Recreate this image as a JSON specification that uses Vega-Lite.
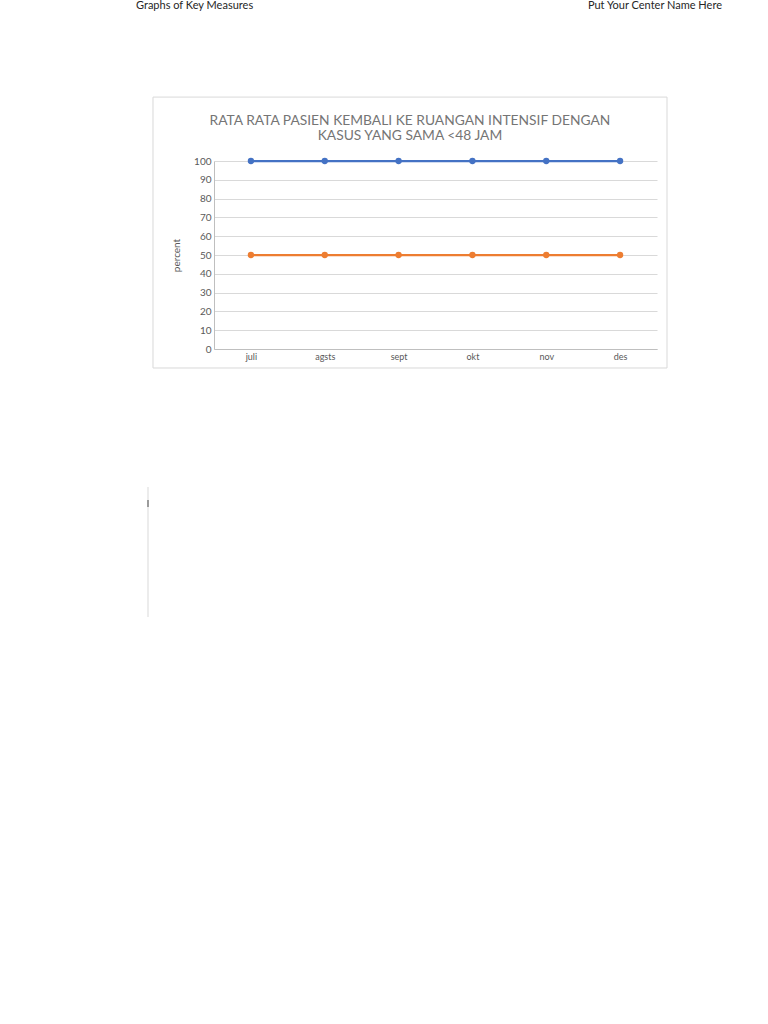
{
  "$schema": "https://vega.github.io/schema/vega-lite/v6.json",
  "autosize": {"type": "none"},
  "width": 443,
  "height": 188,
  "padding": {"left": 214, "top": 161, "right": 111, "bottom": 675},
  "background": "#ffffff",
  "config": {
    "font": "Lato",
    "view": {"stroke": null}
  },
  "layer": [
    {
      "data": {
        "values": [
          {"bulan": "juli", "seri": "Series1", "nilai": 100},
          {"bulan": "agsts", "seri": "Series1", "nilai": 100},
          {"bulan": "sept", "seri": "Series1", "nilai": 100},
          {"bulan": "okt", "seri": "Series1", "nilai": 100},
          {"bulan": "nov", "seri": "Series1", "nilai": 100},
          {"bulan": "des", "seri": "Series1", "nilai": 100},
          {"bulan": "juli", "seri": "Series2", "nilai": 50},
          {"bulan": "agsts", "seri": "Series2", "nilai": 50},
          {"bulan": "sept", "seri": "Series2", "nilai": 50},
          {"bulan": "okt", "seri": "Series2", "nilai": 50},
          {"bulan": "nov", "seri": "Series2", "nilai": 50},
          {"bulan": "des", "seri": "Series2", "nilai": 50}
        ]
      },
      "encoding": {
        "x": {
          "field": "bulan",
          "type": "nominal",
          "sort": ["juli", "agsts", "sept", "okt", "nov", "des"],
          "scale": {"type": "point", "padding": 0.5},
          "axis": {
            "title": null,
            "labelAngle": 0,
            "labelFontSize": 9,
            "labelColor": "#595959",
            "labelPadding": 3,
            "ticks": false,
            "domainColor": "#bfbfbf",
            "grid": false
          }
        },
        "y": {
          "field": "nilai",
          "type": "quantitative",
          "scale": {"domain": [0, 100], "nice": false},
          "axis": {
            "title": "percent",
            "titleFontSize": 10,
            "titleFontWeight": "normal",
            "titleColor": "#595959",
            "titlePadding": 12,
            "values": [0, 10, 20, 30, 40, 50, 60, 70, 80, 90, 100],
            "labelFontSize": 10,
            "labelColor": "#595959",
            "labelPadding": 3,
            "ticks": false,
            "grid": true,
            "domainColor": "#bfbfbf",
            "gridColor": "#d9d9d9",
            "gridWidth": 1
          }
        },
        "color": {
          "field": "seri",
          "type": "nominal",
          "scale": {"domain": ["Series1", "Series2"], "range": ["#4472c4", "#ed7d31"]},
          "legend": null
        }
      },
      "layer": [
        {"mark": {"type": "line", "strokeWidth": 2.25}},
        {"mark": {"type": "point", "filled": true, "shape": "circle", "size": 40, "opacity": 1}}
      ]
    },
    {
      "data": {"values": [{"part": "frame"}]},
      "mark": {"type": "rect", "fill": null, "stroke": "#d9d9d9", "strokeWidth": 1},
      "encoding": {
        "x": {"datum": -0.1377, "type": "quantitative", "scale": {"domain": [0, 1], "nice": false, "zero": false}, "axis": null},
        "x2": {"datum": 1.0226},
        "y": {"datum": 134.0, "type": "quantitative", "scale": {"domain": [0, 100], "nice": false, "zero": false}, "axis": null},
        "y2": {"datum": -10.1}
      }
    },
    {
      "data": {"values": [{"label": "RATA RATA PASIEN KEMBALI KE RUANGAN INTENSIF DENGAN\nKASUS YANG SAMA <48 JAM"}]},
      "mark": {"type": "text", "align": "center", "baseline": "middle", "lineBreak": "\n", "lineHeight": 15, "fontSize": 13.8, "color": "#757575", "font": "Lato"},
      "encoding": {
        "x": {"datum": 0.4424, "type": "quantitative", "scale": {"domain": [0, 1], "nice": false, "zero": false}, "axis": null},
        "y": {"datum": 121.5, "type": "quantitative", "scale": {"domain": [0, 100], "nice": false, "zero": false}, "axis": null},
        "text": {"field": "label"}
      }
    },
    {
      "data": {"values": [{"label": "Graphs of Key Measures"}]},
      "mark": {"type": "text", "align": "left", "baseline": "middle", "fontSize": 11, "color": "#262626", "font": "Lato"},
      "encoding": {
        "x": {"datum": -0.176, "type": "quantitative", "scale": {"domain": [0, 1], "nice": false, "zero": false}, "axis": null},
        "y": {"datum": 182.5, "type": "quantitative", "scale": {"domain": [0, 100], "nice": false, "zero": false}, "axis": null},
        "text": {"field": "label"}
      }
    },
    {
      "data": {"values": [{"label": "Put Your Center Name Here"}]},
      "mark": {"type": "text", "align": "right", "baseline": "middle", "fontSize": 11, "color": "#262626", "font": "Lato"},
      "encoding": {
        "x": {"datum": 1.1467, "type": "quantitative", "scale": {"domain": [0, 1], "nice": false, "zero": false}, "axis": null},
        "y": {"datum": 182.5, "type": "quantitative", "scale": {"domain": [0, 100], "nice": false, "zero": false}, "axis": null},
        "text": {"field": "label"}
      }
    },
    {
      "data": {"values": [{"part": "margin"}]},
      "mark": {"type": "rule", "stroke": "#e6e6e6", "strokeWidth": 1.5},
      "encoding": {
        "x": {"datum": -0.149, "type": "quantitative", "scale": {"domain": [0, 1], "nice": false, "zero": false}, "axis": null},
        "y": {"datum": -73.4, "type": "quantitative", "scale": {"domain": [0, 100], "nice": false, "zero": false}, "axis": null},
        "y2": {"datum": -142.6}
      }
    },
    {
      "data": {"values": [{"part": "cursor"}]},
      "mark": {"type": "rule", "stroke": "#808080", "strokeWidth": 1.5},
      "encoding": {
        "x": {"datum": -0.149, "type": "quantitative", "scale": {"domain": [0, 1], "nice": false, "zero": false}, "axis": null},
        "y": {"datum": -80.3, "type": "quantitative", "scale": {"domain": [0, 100], "nice": false, "zero": false}, "axis": null},
        "y2": {"datum": -84.0}
      }
    }
  ],
  "resolve": {"scale": {"x": "independent", "y": "independent"}}
}
